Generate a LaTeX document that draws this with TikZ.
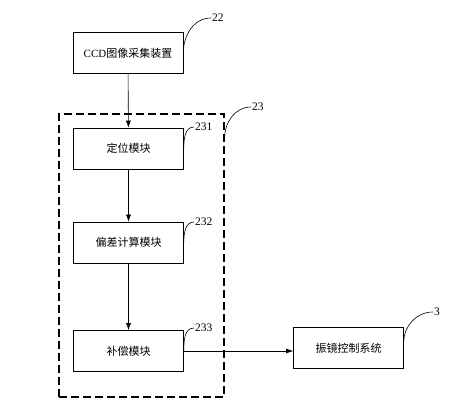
\documentclass[tikz,border=0pt]{standalone}
\usepackage{fontspec}
\setmainfont{Liberation Serif}
\newfontfamily\cjk{Noto Sans CJK SC}
\usetikzlibrary{arrows.meta,
                positioning}
\tikzset{unit/.style={draw, semithick, minimum width=110pt, minimum height=41pt,
                      font=\fontsize{11}{12}\selectfont, inner sep=0pt},
         group/.style={draw, very thick, dash pattern=on 8pt off 4pt,
                       minimum width=165pt, minimum height=283pt},
         tag/.style={font=\fontsize{11.5}{12}\selectfont, inner sep=1pt, anchor=west},
         lead/.style={semithick},
         flow/.style={-{Latex[length=7pt,width=5pt]}, semithick}}

\begin{document}
\begin{tikzpicture}[x=1pt,y=1pt]
        \useasboundingbox (0,0) rectangle (474,404);
        % units
        \node[unit] (b22) at (128,351) {CCD{\cjk 图像采集装置}};
        \node[group] (grp) at (141.5,148.5) {};
        \node[unit] (b231) at (128.5,255.5) {\cjk 定位模块};
        \node[unit] (b232) at (128.5,161.5) {\cjk 偏差计算模块};
        \node[unit] (b233) at (128.5,53) {\cjk 补偿模块};
        \node[unit] (b3) at (348.5,56) {\cjk 振镜控制系统};

        % reference numbers
        \node[tag] (l22) at (211,386) {22};
        \node[tag] (l23) at (251,297) {23};
        \node[tag] (l231) at (194,277) {231};
        \node[tag] (l232) at (194,182) {232};
        \node[tag] (l233) at (194,76) {233};
        \node[tag] (l3) at (433,92) {3};

        \draw[lead] (b22.east) to[out=90,in=180] (l22.west);
        \draw[lead] ([yshift=-25pt]grp.north east) to[out=90,in=180] (l23.west);
        \draw[lead] (b231.east) to[out=90,in=180] (l231.west);
        \draw[lead] (b232.east) to[out=90,in=180] (l232.west);
        \draw[lead] (b233.east) to[out=90,in=180] (l233.west);
        \draw[lead] ([yshift=6pt]b3.east) to[out=90,in=180] (l3.west);

        % signal flow
        \draw[flow] (b22) -- (b231);
        \draw[flow] (b231) -- (b232);
        \draw[flow] (b232) -- (b233);
        \draw[flow] (b233.east) -- (b233.east -| b3.west);
    \end{tikzpicture}
\end{document}
